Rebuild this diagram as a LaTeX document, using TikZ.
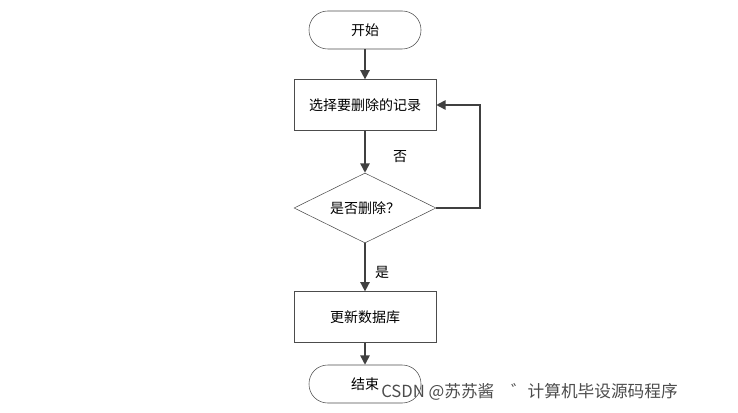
\documentclass[tikz,border=0pt]{standalone}
\usepackage{fontspec}
\setmainfont{Noto Sans CJK SC}
\usetikzlibrary{shapes.geometric,arrows.meta}
\begin{document}
\begin{tikzpicture}[x=0.75pt,y=-0.75pt,
  every node/.style={font=\fontsize{10.5}{12}\selectfont},
  term/.style={draw=black!70,rounded corners=14pt,minimum width=84pt,minimum height=28.5pt},
  box/.style={draw=black!70,minimum width=106.5pt,minimum height=38pt},
  dia/.style={draw=black!70,diamond,aspect=2,minimum width=106.5pt,minimum height=52.5pt,inner sep=0pt},
  arr/.style={draw=black!75,line width=1.2pt,-{Triangle[length=7pt,width=7pt]}}]
\useasboundingbox (0,0) rectangle (738,413);
\node[term] (s) at (365,30) {开始};
\node[box] (b1) at (365,105) {选择要删除的记录};
\node[dia] (d) at (365,208) {是否删除？};
\node[box] (b2) at (365,317) {更新数据库};
\node[term] (e) at (365,384) {结束};
\coordinate (c1) at (480,208);
\coordinate (c2) at (480,105);
\draw[arr] (s) -- (b1);
\draw[arr] (b1) -- (d);
\draw[arr] (d) -- (b2);
\draw[arr] (b2) -- (e);
\draw[arr] (d.east) -- (c1) -- (c2) -- (b1.east);
\node (no) at (400,157) {否};
\node (yes) at (382,272) {是};
\node[text=black!70,anchor=west,inner sep=0pt,font=\fontsize{12.5}{13}\selectfont] (wm) at (381,392) {CSDN @苏苏酱\quad ゛计算机毕设源码程序};
\end{tikzpicture}
\end{document}
